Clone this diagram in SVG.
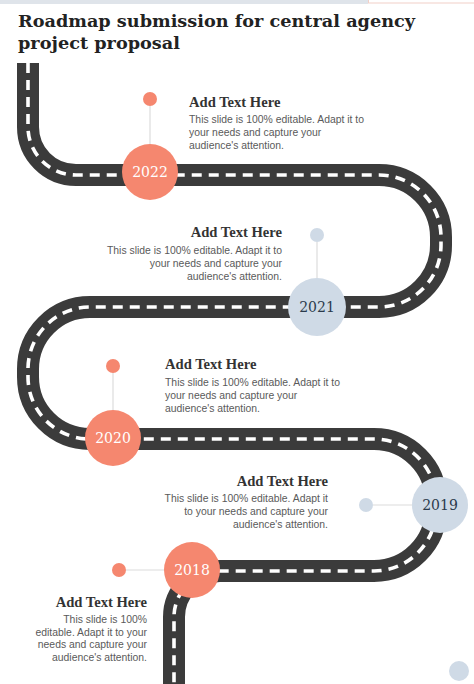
<svg xmlns="http://www.w3.org/2000/svg" width="474" height="684" viewBox="0 0 474 684">
<style>
.road{fill:none;stroke:#3b3b3b;stroke-width:22}
.lane{fill:none;stroke:#ffffff;stroke-width:3.6;stroke-dasharray:10 7}
.salmon{fill:#f5876f}
.blue{fill:#cfdae6}
.lead{stroke:#dcdcdc;stroke-width:1.2}
.yr{font-family:"DejaVu Serif","Liberation Serif",serif;font-size:14px;text-anchor:middle}
.yw{fill:#ffffff}
.yd{fill:#2b3a4c}
.h{font-family:"Liberation Serif","Times New Roman",serif;font-weight:bold;font-size:14.6px;fill:#333333}
.b{font-family:"Liberation Sans",Arial,sans-serif;font-size:10.4px;fill:#5a5a5a}
.r{text-anchor:end}
.title{font-family:"DejaVu Serif","Liberation Serif",serif;font-weight:bold;font-size:17px;fill:#222222}
</style>
<rect x="0" y="0" width="474" height="684" fill="#ffffff"/>
<rect x="0" y="0" width="368" height="4" fill="#dfe4ea"/>
<rect x="368.5" y="-2" width="110" height="5" fill="none" stroke="#f1cfc7" stroke-width="1"/>
<g id="title">
<text class="title" x="18" y="27" textLength="397" lengthAdjust="spacingAndGlyphs">Roadmap submission for central agency</text>
<text class="title" x="18" y="49" textLength="162" lengthAdjust="spacingAndGlyphs">project proposal</text>
</g>
<g id="connectors">
<path class="road" d="M28 63 V127 A48 48 0 0 0 76 175 H379 A62 62 0 0 1 441 237 V245 A62 62 0 0 1 379 307 H90 A62 62 0 0 0 28 369 V377 A62 62 0 0 0 90 439 H374 A62 62 0 0 1 436 501 V509 A62 62 0 0 1 374 571 H220 A46 46 0 0 0 174 617 V690"/>
<path class="lane" d="M28 63 V127 A48 48 0 0 0 76 175 H379 A62 62 0 0 1 441 237 V245 A62 62 0 0 1 379 307 H90 A62 62 0 0 0 28 369 V377 A62 62 0 0 0 90 439 H374 A62 62 0 0 1 436 501 V509 A62 62 0 0 1 374 571 H220 A46 46 0 0 0 174 617 V690"/>
<line class="lead" x1="150" y1="106" x2="150" y2="145"/>
<line class="lead" x1="317" y1="242" x2="317" y2="279"/>
<line class="lead" x1="113" y1="373" x2="113" y2="411"/>
<line class="lead" x1="373" y1="505" x2="413" y2="505"/>
<line class="lead" x1="126" y1="570" x2="165" y2="570"/>
</g>
<g id="m2022">
<circle class="salmon" cx="150" cy="99" r="7"/>
<circle class="salmon" cx="150" cy="172" r="28"/>
<text class="yr yw" x="150" y="177">2022</text>
<text class="h" x="189" y="107">Add Text Here</text>
<text class="b" x="189" y="123">This slide is 100% editable. Adapt it to</text>
<text class="b" x="189" y="136">your needs and capture your</text>
<text class="b" x="189" y="149">audience's attention.</text>
</g>
<g id="m2021">
<circle class="blue" cx="317" cy="235" r="7"/>
<circle class="blue" cx="317" cy="307" r="29"/>
<text class="yr yd" x="317" y="312">2021</text>
<text class="h r" x="282" y="237">Add Text Here</text>
<text class="b r" x="282" y="254">This slide is 100% editable. Adapt it to</text>
<text class="b r" x="282" y="267">your needs and capture your</text>
<text class="b r" x="282" y="280">audience's attention.</text>
</g>
<g id="m2020">
<circle class="salmon" cx="113" cy="366" r="7"/>
<circle class="salmon" cx="113" cy="438" r="28"/>
<text class="yr yw" x="113" y="443">2020</text>
<text class="h" x="165" y="369">Add Text Here</text>
<text class="b" x="165" y="386">This slide is 100% editable. Adapt it to</text>
<text class="b" x="165" y="399">your needs and capture your</text>
<text class="b" x="165" y="412">audience's attention.</text>
</g>
<g id="m2019">
<circle class="blue" cx="366" cy="505" r="7"/>
<circle class="blue" cx="440" cy="505" r="28"/>
<text class="yr yd" x="440" y="510">2019</text>
<text class="h r" x="328" y="486">Add Text Here</text>
<text class="b r" x="328" y="502">This slide is 100% editable. Adapt it</text>
<text class="b r" x="328" y="515">to your needs and capture your</text>
<text class="b r" x="328" y="528">audience's attention.</text>
</g>
<g id="m2018">
<circle class="salmon" cx="119" cy="570" r="7"/>
<circle class="salmon" cx="192" cy="570" r="28"/>
<text class="yr yw" x="192" y="575">2018</text>
<text class="h r" x="147" y="607">Add Text Here</text>
<text class="b r" x="147" y="623">This slide is 100%</text>
<text class="b r" x="147" y="636">editable. Adapt it to your</text>
<text class="b r" x="147" y="648">needs and capture your</text>
<text class="b r" x="147" y="661">audience's attention.</text>
</g>
<g id="corner-dot">
<circle class="blue" cx="459" cy="671" r="10"/>
</g>
</svg>
